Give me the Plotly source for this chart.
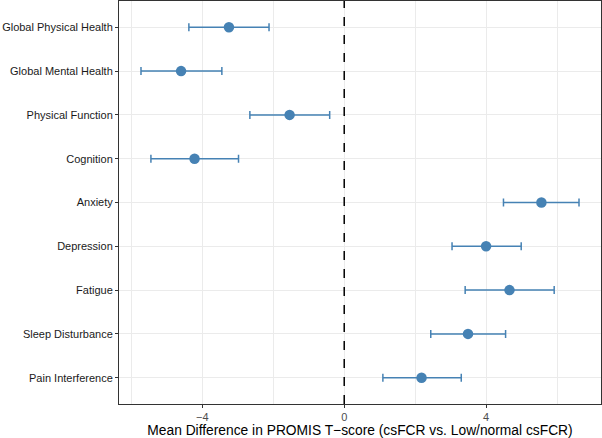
import plotly.graph_objects as go

# PROMIS domains, top to bottom as drawn
domains = [
    "Global Physical Health",
    "Global Mental Health",
    "Physical Function",
    "Cognition",
    "Anxiety",
    "Depression",
    "Fatigue",
    "Sleep Disturbance",
    "Pain Interference",
]
mean_diff = [-3.25, -4.60, -1.54, -4.22, 5.56, 4.00, 4.66, 3.49, 2.18]
ci_low = [-4.38, -5.73, -2.66, -5.45, 4.49, 3.04, 3.41, 2.44, 1.09]
ci_high = [-2.12, -3.45, -0.41, -2.98, 6.62, 4.99, 5.92, 4.55, 3.30]

x_ticks = [-4, 0, 4]

steel = "#4682B4"
grid = "#EBEBEB"

fig = go.Figure()

fig.add_trace(go.Scatter(
    x=mean_diff,
    y=domains,
    mode="markers",
    marker=dict(color=steel, size=10.5),
    error_x=dict(
        type="data",
        symmetric=False,
        array=[h - m for h, m in zip(ci_high, mean_diff)],
        arrayminus=[m - l for m, l in zip(mean_diff, ci_low)],
        color=steel,
        thickness=1.5,
        width=4,
    ),
    showlegend=False,
))

fig.add_vline(x=0, line=dict(color="black", width=1.5, dash="dash"))

fig.update_layout(
    width=602,
    height=438,
    margin=dict(l=119, r=1, t=1, b=34, autoexpand=False),
    paper_bgcolor="white",
    plot_bgcolor="white",
    font=dict(family="Liberation Sans, Arial, sans-serif", color="#4D4D4D", size=11),
)

fig.update_xaxes(
    automargin=False,
    range=[-6.35, 7.24],
    tickvals=x_ticks,
    ticks="outside",
    ticklen=3,
    tickcolor="#333333",
    tickfont=dict(size=11, color="#4D4D4D"),
    showgrid=True,
    gridcolor=grid,
    gridwidth=1,
    minor=dict(dtick=4, tick0=-6, showgrid=True, gridcolor=grid, gridwidth=0.5),
    zeroline=False,
    showline=True,
    linecolor="#333333",
    linewidth=1,
    mirror=True,
    title=dict(
        text="Mean Difference in PROMIS T\u2212score (csFCR vs. Low/normal csFCR)",
        font=dict(size=13.8, color="black"),
    ),
)

fig.update_yaxes(
    automargin=False,
    type="category",
    categoryorder="array",
    categoryarray=domains,
    range=[8.6, -0.6],
    ticks="outside",
    ticklen=3,
    tickcolor="#333333",
    tickfont=dict(size=11, color="#1a1a1a"),
    showgrid=True,
    gridcolor=grid,
    gridwidth=1,
    zeroline=False,
    showline=True,
    linecolor="#333333",
    linewidth=1,
    mirror=True,
)

# page body has an 8px default margin; drop it so the figure fills the window
fig.write_html(
    "out.html",
    config={"displayModeBar": False},
    post_script="document.body.style.margin='0';",
)
